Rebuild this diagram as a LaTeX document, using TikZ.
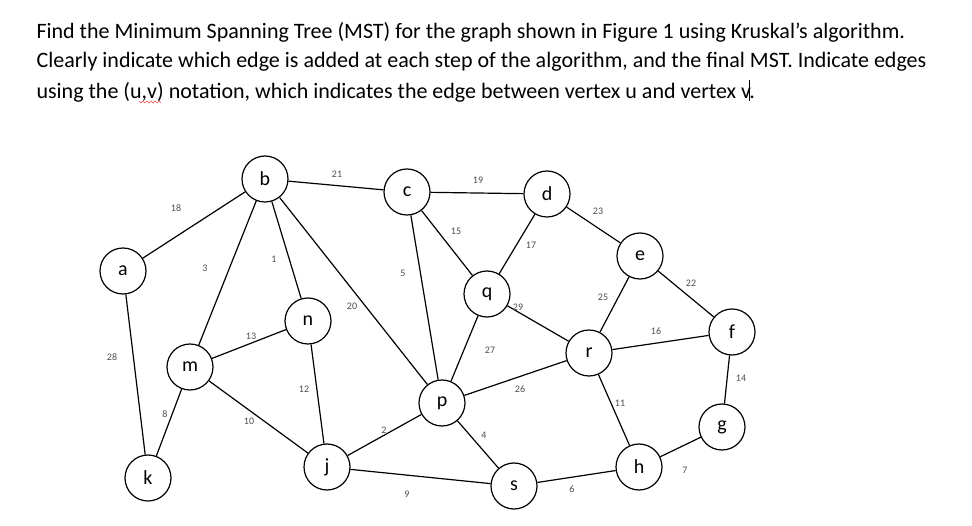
\documentclass[tikz,border=0pt]{standalone}
\usepackage{fontspec}
\setmainfont{Carlito}
\begin{document}
\begin{tikzpicture}[x=1pt,y=-1pt,
  vtx/.style={circle,draw,line width=1.2pt,minimum size=46pt,inner sep=0pt,font=\fontsize{20}{20}\selectfont,fill=white},
  wt/.style={font=\fontsize{10}{10}\selectfont,text=black!70},
  edge/.style={line width=1.2pt}]
\useasboundingbox (0,0) rectangle (972,526);
\node[anchor=west,font=\fontsize{22}{22}\selectfont] (t1) at (33,32) {Find the Minimum Spanning Tree (MST) for the graph shown in Figure 1 using Kruskal’s algorithm.};
\node[anchor=west,font=\fontsize{22}{22}\selectfont] (t2) at (33,62) {Clearly indicate which edge is added at each step of the algorithm, and the final MST. Indicate edges};
\node[anchor=west,font=\fontsize{22}{22}\selectfont] (t3) at (33,92) {using the (u,v) notation, which indicates the edge between vertex u and vertex v.};
\coordinate (w1) at (139,101);
\draw[red!70,line width=0.6pt] (w1) -- ++(2,2)--++(2,-2)--++(2,2)--++(2,-2)--++(2,2)--++(2,-2)--++(2,2)--++(2,-2)--++(2,2)--++(2,-2)--++(2,2);
\coordinate (cur) at (749,80); \draw[line width=0.8pt] (cur) -- ++(0,21);
\begin{scope}[every node/.style={vtx}]
\node (a) at (123,271) {a};
\node (b) at (265,179) {b};
\node (c) at (407,192) {c};
\node (d) at (547,194) {d};
\node (e) at (640,256) {e};
\node (f) at (732,332) {f};
\node (g) at (722,427) {g};
\node (h) at (639,467) {h};
\node (r) at (589,353) {r};
\node (q) at (487,294) {q};
\node (n) at (308,321) {n};
\node (m) at (190,367) {m};
\node (k) at (148,478) {k};
\node (j) at (327,467) {j};
\node (p) at (442,403) {p};
\node (s) at (514,486) {s};
\end{scope}
\begin{scope}[edge]
\draw (a)--(b); \draw (a)--(k); \draw (b)--(m); \draw (b)--(n); \draw (b)--(c); \draw (b)--(p);
\draw (c)--(p); \draw (c)--(q); \draw (c)--(d); \draw (d)--(q); \draw (d)--(e);
\draw (m)--(n); \draw (m)--(k); \draw (m)--(j); \draw (n)--(j); \draw (j)--(p); \draw (j)--(s);
\draw (q)--(p); \draw (q)--(r); \draw (p)--(r); \draw (p)--(s); \draw (e)--(r); \draw (e)--(f);
\draw (r)--(f); \draw (r)--(h); \draw (f)--(g); \draw (g)--(h); \draw (s)--(h);
\end{scope}
\begin{scope}[every node/.style={wt}]
\node (l18) at (176,208) {18}; \node (l3) at (205,268) {3}; \node (l1) at (274,259) {1};
\node (l21) at (337,174) {21}; \node (l5) at (403,273) {5}; \node (l20) at (352,306) {20};
\node (l13) at (251,336) {13}; \node (l12) at (304,389) {12}; \node (l28) at (112,357) {28};
\node (l8) at (165,414) {8}; \node (l10) at (249,421) {10}; \node (l2) at (384,430) {2};
\node (l9) at (407,494) {9}; \node (l19) at (478,180) {19}; \node (l15) at (456,231) {15};
\node (l17) at (531,245) {17}; \node (l27) at (490,350) {27}; \node (l29) at (518,307) {29};
\node (l26) at (520,389) {26}; \node (l4) at (484,435) {4}; \node (l23) at (598,211) {23};
\node (l25) at (603,297) {25}; \node (l22) at (691,283) {22}; \node (l16) at (656,331) {16};
\node (l11) at (620,403) {11}; \node (l14) at (741,378) {14}; \node (l7) at (685,470) {7};
\node (l6) at (572,489) {6};
\end{scope}
\end{tikzpicture}
\end{document}
